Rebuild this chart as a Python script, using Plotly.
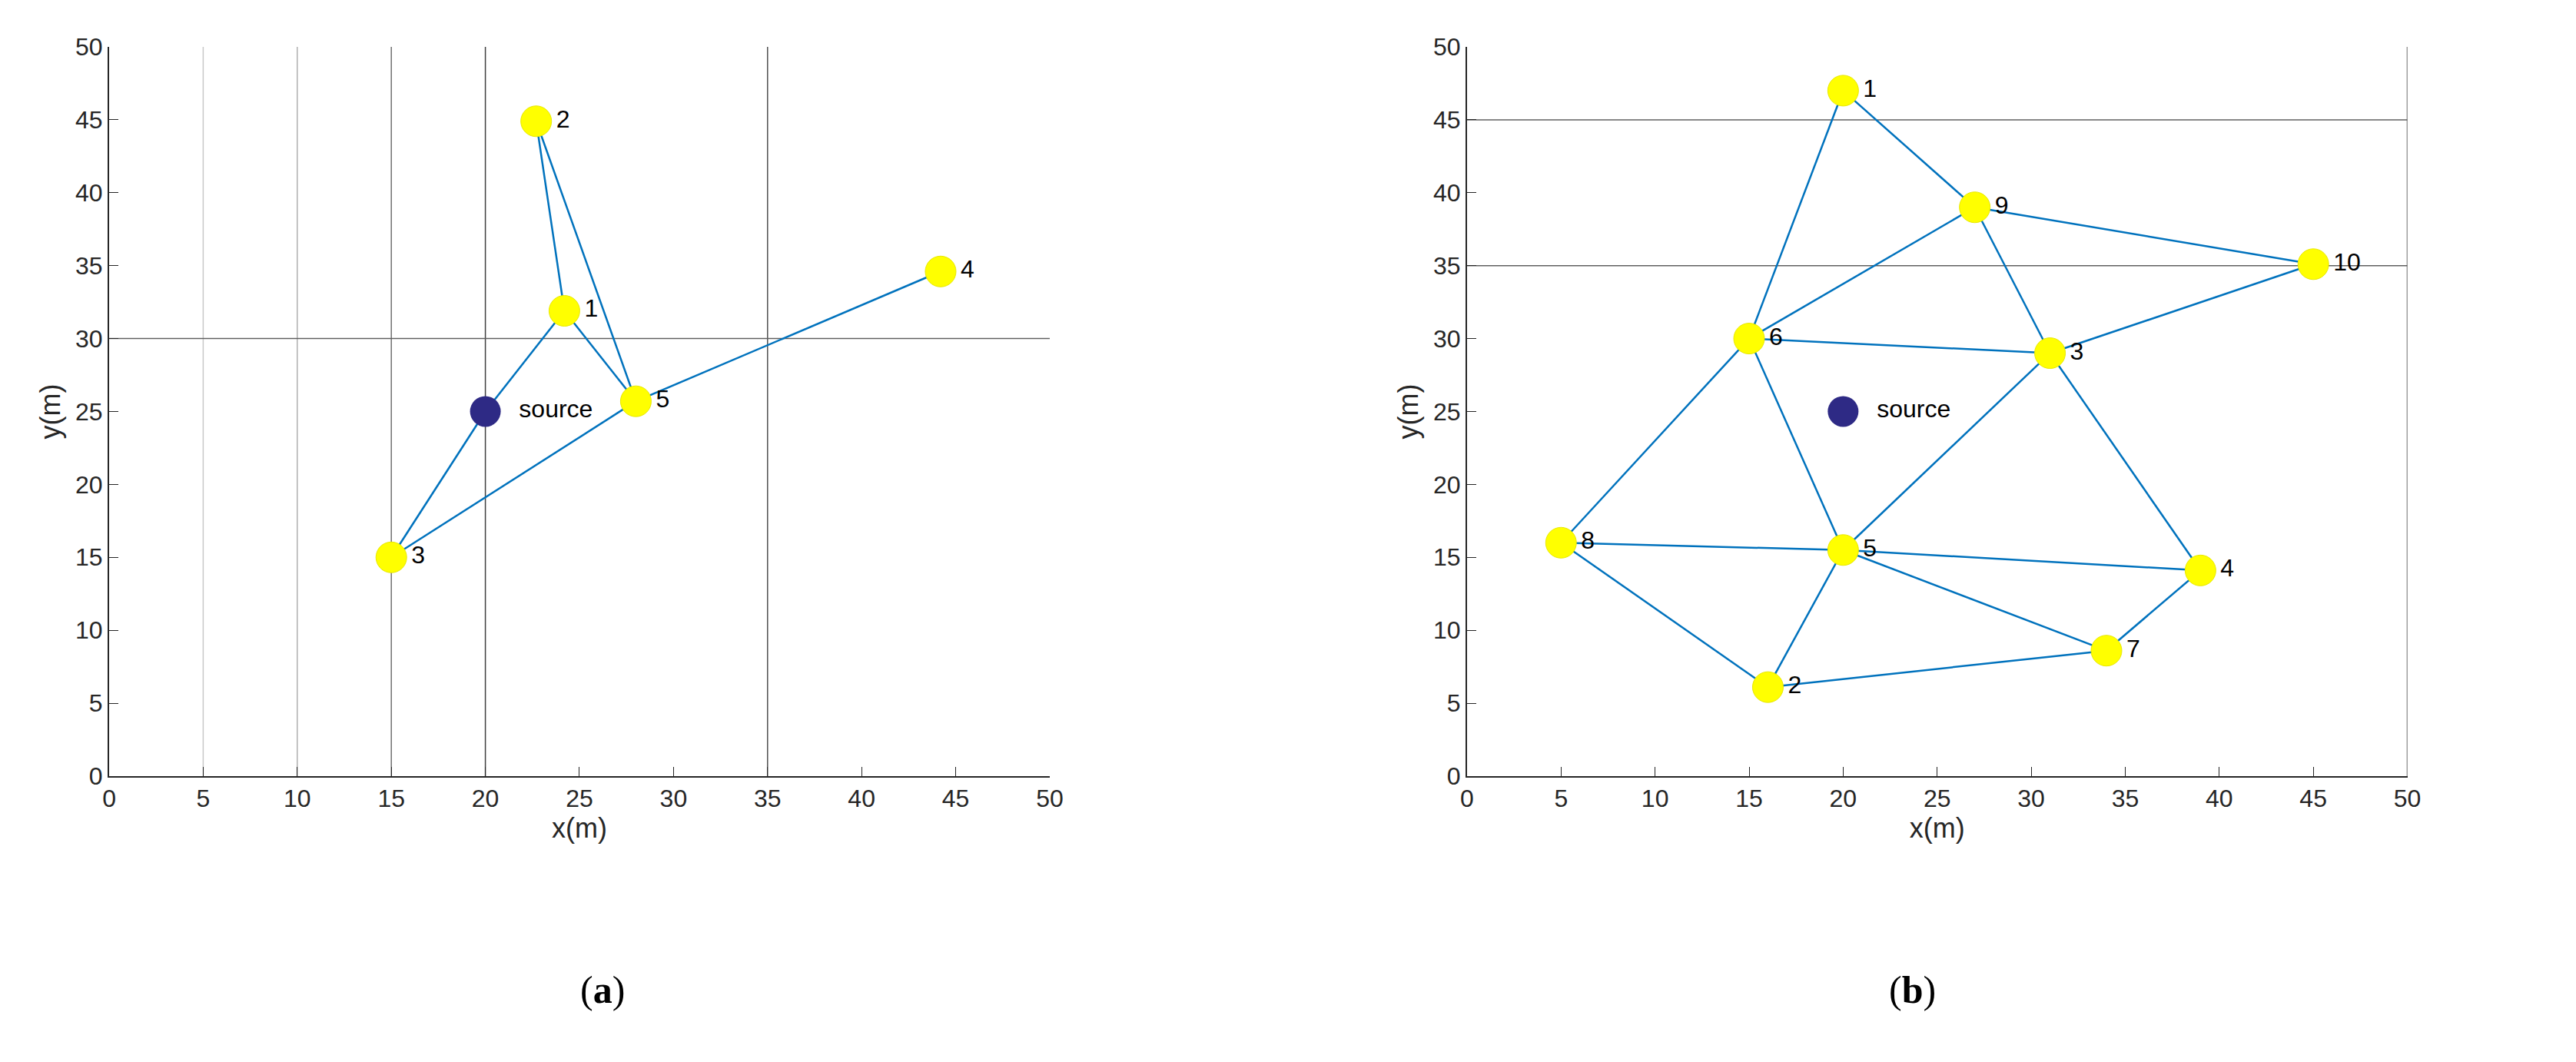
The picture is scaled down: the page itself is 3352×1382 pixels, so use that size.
import plotly.graph_objects as go

# Panel (a)
a_ids = ["1", "2", "3", "4", "5"]
a_x = [24.2, 22.7, 15.0, 44.2, 28.0]
a_y = [31.9, 44.9, 15.0, 34.6, 25.7]
a_edges = [("2", "1"), ("2", "5"), ("1", "5"), ("1", "S"), ("S", "3"), ("3", "5"), ("5", "4")]
a_vlines = [5, 10, 15, 20, 35]
a_vline_gray = ["#c8c8c8", "#b0b0b0", "#707070", "#404040", "#505050"]
a_hlines = [30]

# Panel (b)
b_ids = ["1", "2", "3", "4", "5", "6", "7", "8", "9", "10"]
b_x = [20, 16, 31, 39, 20, 15, 34, 5, 27, 45]
b_y = [47, 6.1, 29, 14.1, 15.5, 30, 8.6, 16, 39, 35.1]
b_edges = [("1", "6"), ("1", "9"), ("9", "10"), ("9", "6"), ("9", "3"), ("10", "3"), ("6", "3"),
           ("6", "8"), ("6", "5"), ("3", "5"), ("3", "4"), ("8", "5"), ("8", "2"), ("5", "2"),
           ("5", "4"), ("5", "7"), ("4", "7"), ("2", "7")]
b_hlines = [45, 35]

source = (20, 25)
ticks = [0, 5, 10, 15, 20, 25, 30, 35, 40, 45, 50]

FONT = "Liberation Sans, Arial, sans-serif"
fig = go.Figure()


def add_panel(ids, xs, ys, edges, xa, ya):
    pos = {i: (x, y) for i, x, y in zip(ids, xs, ys)}
    pos["S"] = source
    ex, ey = [], []
    for p, q in edges:
        ex += [pos[p][0], pos[q][0], None]
        ey += [pos[p][1], pos[q][1], None]
    fig.add_trace(go.Scatter(x=ex, y=ey, mode="lines", line=dict(color="#0072BD", width=2.5),
                             xaxis=xa, yaxis=ya, showlegend=False, hoverinfo="skip"))
    fig.add_trace(go.Scatter(x=xs, y=ys, mode="markers+text", text=ids, textposition="middle right",
                             textfont=dict(family=FONT, size=32, color="black"),
                             marker=dict(color="#FFFF00", size=40, line=dict(color="#E8E800", width=1)),
                             xaxis=xa, yaxis=ya, showlegend=False))
    fig.add_trace(go.Scatter(x=[source[0]], y=[source[1]], mode="markers+text", text=["  source"],
                             textposition="middle right",
                             textfont=dict(family=FONT, size=32, color="black"),
                             marker=dict(color="#2E2A85", size=40),
                             xaxis=xa, yaxis=ya, showlegend=False))


add_panel(a_ids, a_x, a_y, a_edges, "x", "y")
add_panel(b_ids, b_x, b_y, b_edges, "x2", "y2")

shapes = []
for v, c in zip(a_vlines, a_vline_gray):
    shapes.append(dict(type="line", xref="x", yref="y", x0=v, x1=v, y0=0, y1=50,
                       line=dict(color=c, width=1.5), layer="below"))
for h in a_hlines:
    shapes.append(dict(type="line", xref="x", yref="y", x0=0, x1=50, y0=h, y1=h,
                       line=dict(color="#606060", width=1.5), layer="below"))
for h in b_hlines:
    shapes.append(dict(type="line", xref="x2", yref="y2", x0=0, x1=50, y0=h, y1=h,
                       line=dict(color="#606060", width=1.5), layer="below"))
shapes.append(dict(type="line", xref="x2", yref="y2", x0=50, x1=50, y0=0, y1=50,
                   line=dict(color="#404040", width=1.5)))

ax = dict(range=[0, 50], tickvals=ticks, showgrid=False, zeroline=False, showline=True,
          linecolor="#262626", linewidth=2, ticks="inside", ticklen=12, tickcolor="#262626",
          tickfont=dict(family=FONT, size=32, color="#262626"), fixedrange=True)
tf = dict(family=FONT, size=36, color="#262626")

fig.update_layout(
    width=3352, height=1382, margin=dict(l=0, r=0, t=0, b=0),
    paper_bgcolor="white", plot_bgcolor="white", shapes=shapes,
    xaxis=dict(ax, domain=[0.0376, 0.4057], anchor="y", title=dict(text="x(m)", font=tf, standoff=8)),
    yaxis=dict(ax, domain=[0.269, 0.974], anchor="x", title=dict(text="y(m)", font=tf, standoff=8)),
    xaxis2=dict(ax, domain=[0.569, 0.937], anchor="y2", title=dict(text="x(m)", font=tf, standoff=8)),
    yaxis2=dict(ax, domain=[0.269, 0.974], anchor="x2", title=dict(text="y(m)", font=tf, standoff=8)),
    annotations=[
        dict(text="(<b>a</b>)", x=0.2215, y=0.04, xref="paper", yref="paper", showarrow=False,
             font=dict(family="Liberation Serif, Times New Roman, serif", size=50, color="black")),
        dict(text="(<b>b</b>)", x=0.753, y=0.04, xref="paper", yref="paper", showarrow=False,
             font=dict(family="Liberation Serif, Times New Roman, serif", size=50, color="black")),
    ],
)

fig.write_html("out.html")
